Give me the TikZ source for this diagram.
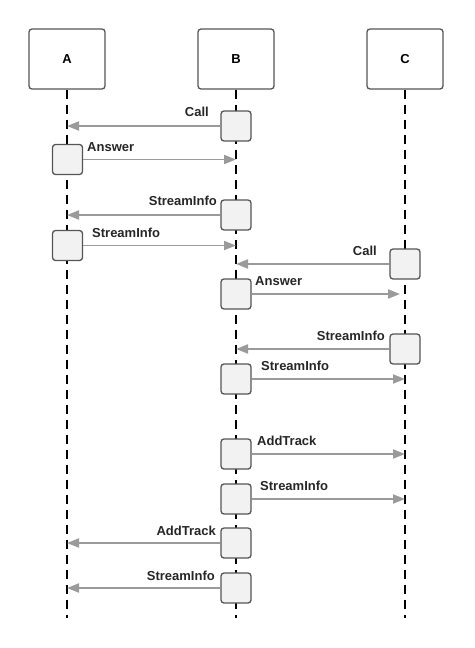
\documentclass[tikz,border=0pt]{standalone}
\usepackage{fontspec}
\setmainfont{Liberation Sans}
\usetikzlibrary{arrows.meta}
\definecolor{boxline}{HTML}{555555}
\definecolor{boxfill}{HTML}{F2F2F2}
\definecolor{msgline}{HTML}{9A9A9A}
\begin{document}
\begin{tikzpicture}[x=1pt,y=-1pt,
  font=\fontsize{13}{15}\selectfont\bfseries,
  header/.style={draw=boxline,line width=1.3pt,rounded corners=3pt,minimum width=76pt,minimum height=60pt,inner sep=0pt,fill=white},
  actbox/.style={draw=boxline,line width=1.3pt,rounded corners=3pt,minimum size=30pt,inner sep=0pt,fill=boxfill},
  lifeline/.style={draw=black,line width=1.4pt,dash pattern=on 9pt off 6pt},
  msg/.style={draw=msgline,line width=1.9pt,-{Triangle[length=12pt,width=9pt]}},
  lbl/.style={inner sep=0pt,text=black!85}]
\useasboundingbox (0,0) rectangle (474,648);
% headers
\node[header] (A) at (67,59) {A};
\node[header] (B) at (236,59) {B};
\node[header] (C) at (405,59) {C};
\coordinate (Aend) at (67,618);
\coordinate (Bend) at (236,618);
\coordinate (Cend) at (405,618);
\draw[lifeline] (A.south) -- (Aend);
\draw[lifeline] (B.south) -- (Bend);
\draw[lifeline] (C.south) -- (Cend);
% activation boxes
\node[actbox] (b1) at (236,126) {};
\node[actbox] (a1) at (67.5,159.5) {};
\node[actbox] (b2) at (236,215) {};
\node[actbox] (a2) at (67.5,245.5) {};
\node[actbox] (c1) at (405,264) {};
\node[actbox] (b3) at (236,294) {};
\node[actbox] (c2) at (405,349) {};
\node[actbox] (b4) at (236,379) {};
\node[actbox] (b5) at (236,454) {};
\node[actbox] (b6) at (236,499) {};
\node[actbox] (b7) at (236,543) {};
\node[actbox] (b8) at (236,588) {};
% messages
\draw[msg] (b1.west) -- (b1.west -| A);
\node[lbl,anchor=base east] (l1) at (209,116) {Call};
\draw[msg] (a1.east) -- (a1.east -| B);
\node[lbl,anchor=base west] (l2) at (87,151) {Answer};
\draw[msg] (b2.west) -- (b2.west -| A);
\node[lbl,anchor=base east] (l3) at (217,205) {StreamInfo};
\draw[msg] (a2.east) -- (a2.east -| B);
\node[lbl,anchor=base west] (l4) at (92,237) {StreamInfo};
\draw[msg] (c1.west) -- (c1.west -| B);
\node[lbl,anchor=base east] (l5) at (377,255) {Call};
\draw[msg,shorten >=5pt] (b3.east) -- (b3.east -| C);
\node[lbl,anchor=base west] (l6) at (255,285) {Answer};
\draw[msg] (c2.west) -- (c2.west -| B);
\node[lbl,anchor=base east] (l7) at (385,340) {StreamInfo};
\draw[msg] (b4.east) -- (b4.east -| C);
\node[lbl,anchor=base west] (l8) at (261,370) {StreamInfo};
\draw[msg] (b5.east) -- (b5.east -| C);
\node[lbl,anchor=base west] (l9) at (257,445) {AddTrack};
\draw[msg] (b6.east) -- (b6.east -| C);
\node[lbl,anchor=base west] (l10) at (260,490) {StreamInfo};
\draw[msg] (b7.west) -- (b7.west -| A);
\node[lbl,anchor=base east] (l11) at (216,535) {AddTrack};
\draw[msg] (b8.west) -- (b8.west -| A);
\node[lbl,anchor=base east] (l12) at (215,580) {StreamInfo};
\end{tikzpicture}
\end{document}
